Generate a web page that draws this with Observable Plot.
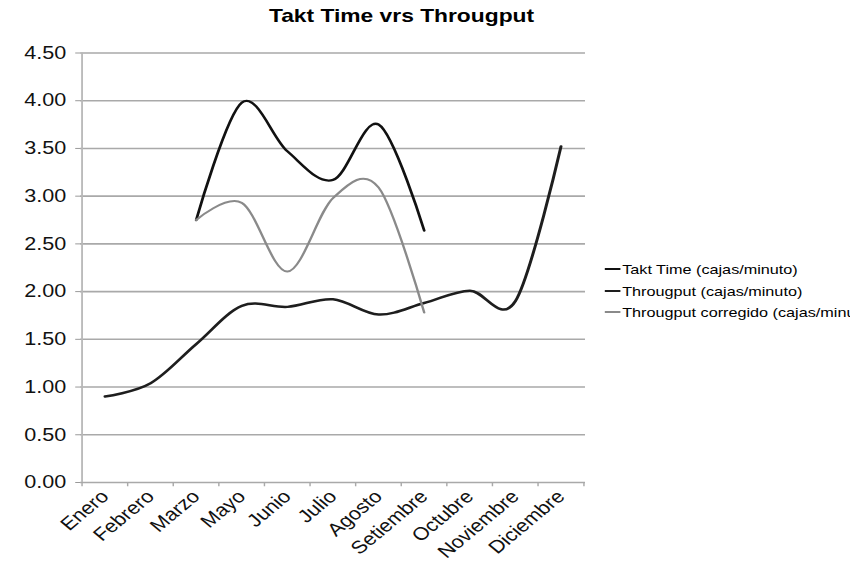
<!DOCTYPE html>
<html>
<head>
<meta charset="utf-8">
<script src="https://cdn.jsdelivr.net/npm/d3@7"></script>
<script src="https://cdn.jsdelivr.net/npm/@observablehq/plot@0.6"></script>
<style>
  html, body { margin: 0; padding: 0; background: #fff; overflow: hidden; width: 850px; height: 565px; }
  #wrap { position: absolute; left: 0; top: 0; width: 708.33px; height: 565px; transform: scaleX(1.2); transform-origin: 0 0;
          font-family: "Liberation Sans", Arial, sans-serif; color: #000; }
  #title { position: absolute; top: 6px; left: 0; width: 669.2px; text-align: center; font-weight: bold; font-size: 19px; line-height: 19px; }
  #chart { position: absolute; left: 0; top: 0; }
  .leg { position: absolute; left: 504px; height: 16px; line-height: 16px; font-size: 13.5px; white-space: nowrap; }
  .leg .sw { display: inline-block; width: 12.5px; vertical-align: middle; margin-right: 2px; margin-top: -2px; }
</style>
</head>
<body>
<div id="wrap">
  <div id="title">Takt Time vrs Througput</div>
  <div id="chart"></div>
  <div id="legend"></div>
</div>
<script>
const months = ["Enero", "Febrero", "Marzo", "Mayo", "Junio", "Julio", "Agosto", "Setiembre", "Octubre", "Noviembre", "Diciembre"];
const taktTime = [null, null, 2.75, 3.98, 3.47, 3.17, 3.75, 2.64, null, null, null];
const throughput = [0.90, 1.04, 1.45, 1.85, 1.84, 1.92, 1.76, 1.88, 2.01, 1.90, 3.52];
const throughputCorregido = [null, null, 2.75, 2.93, 2.21, 2.98, 3.09, 1.78, null, null, null];
const yTicks = [0, 0.5, 1, 1.5, 2, 2.5, 3, 3.5, 4, 4.5];
const seriesNames = ["Takt Time (cajas/minuto)", "Througput (cajas/minuto)", "Througput corregido (cajas/minuto)"];
const seriesValues = [taktTime, throughput, throughputCorregido];
const seriesColors = ["#111111", "#1e1e1e", "#8a8a8a"];
const seriesWidths = [2.3, 2.5, 2.0];

const W = 708.33, H = 565;
const mL = 66.67, mR = 220.83, mT = 52.5, mB = 83;
const step = (W - mL - mR) / months.length;

const rows = [];
seriesValues.forEach((vals, s) => {
  vals.forEach((v, i) => { if (v != null) rows.push({series: seriesNames[s], month: months[i], value: v}); });
});

const lineMarks = seriesNames.map((name, s) =>
  Plot.line(rows.filter(r => r.series === name), {
    x: "month", y: "value", stroke: seriesColors[s], strokeWidth: seriesWidths[s], curve: "cardinal"
  })
);

const chart = Plot.plot({
  width: W, height: H,
  marginLeft: mL, marginRight: mR, marginTop: mT, marginBottom: mB,
  style: {fontFamily: "Liberation Sans, Arial, sans-serif", color: "#000", background: "transparent"},
  x: {type: "point", domain: months, padding: 0.5},
  y: {domain: [0, 4.5]},
  marks: [
    Plot.ruleY(yTicks, {y: d => d, stroke: "#a9a9a9", strokeWidth: 1.6}),
    Plot.ruleX([months[0]], {x: d => d, dx: -step / 2, y1: 0, y2: 4.5, stroke: "#b8b8b8", strokeWidth: 1.5}),
    Plot.ruleX(months, {x: d => d, dx: -step / 2, y1: 0, y2: -0.045, stroke: "#a9a9a9", strokeWidth: 1.2}),
    Plot.ruleX([months[months.length - 1]], {x: d => d, dx: step / 2, y1: 0, y2: -0.045, stroke: "#a9a9a9", strokeWidth: 1.2}),
    Plot.axisY({ticks: yTicks, tickFormat: d => d.toFixed(2), tickSize: 4, tickPadding: 8, fontSize: 18, stroke: "#999", fill: "#111", label: null}),
    Plot.axisX({tickSize: 0, tickRotate: -45, tickPadding: 11, fontSize: 18, fill: "#111", label: null}),
    ...lineMarks
  ]
});
document.getElementById("chart").appendChild(chart);

const legendTops = [262, 283.5, 305];
const legend = document.getElementById("legend");
seriesNames.forEach((name, s) => {
  const div = document.createElement("div");
  div.className = "leg";
  div.style.top = legendTops[s] + "px";
  const sw = document.createElement("span");
  sw.className = "sw";
  sw.style.borderTop = seriesWidths[s] + "px solid " + seriesColors[s];
  div.appendChild(sw);
  div.appendChild(document.createTextNode(name));
  legend.appendChild(div);
});
</script>
</body>
</html>
